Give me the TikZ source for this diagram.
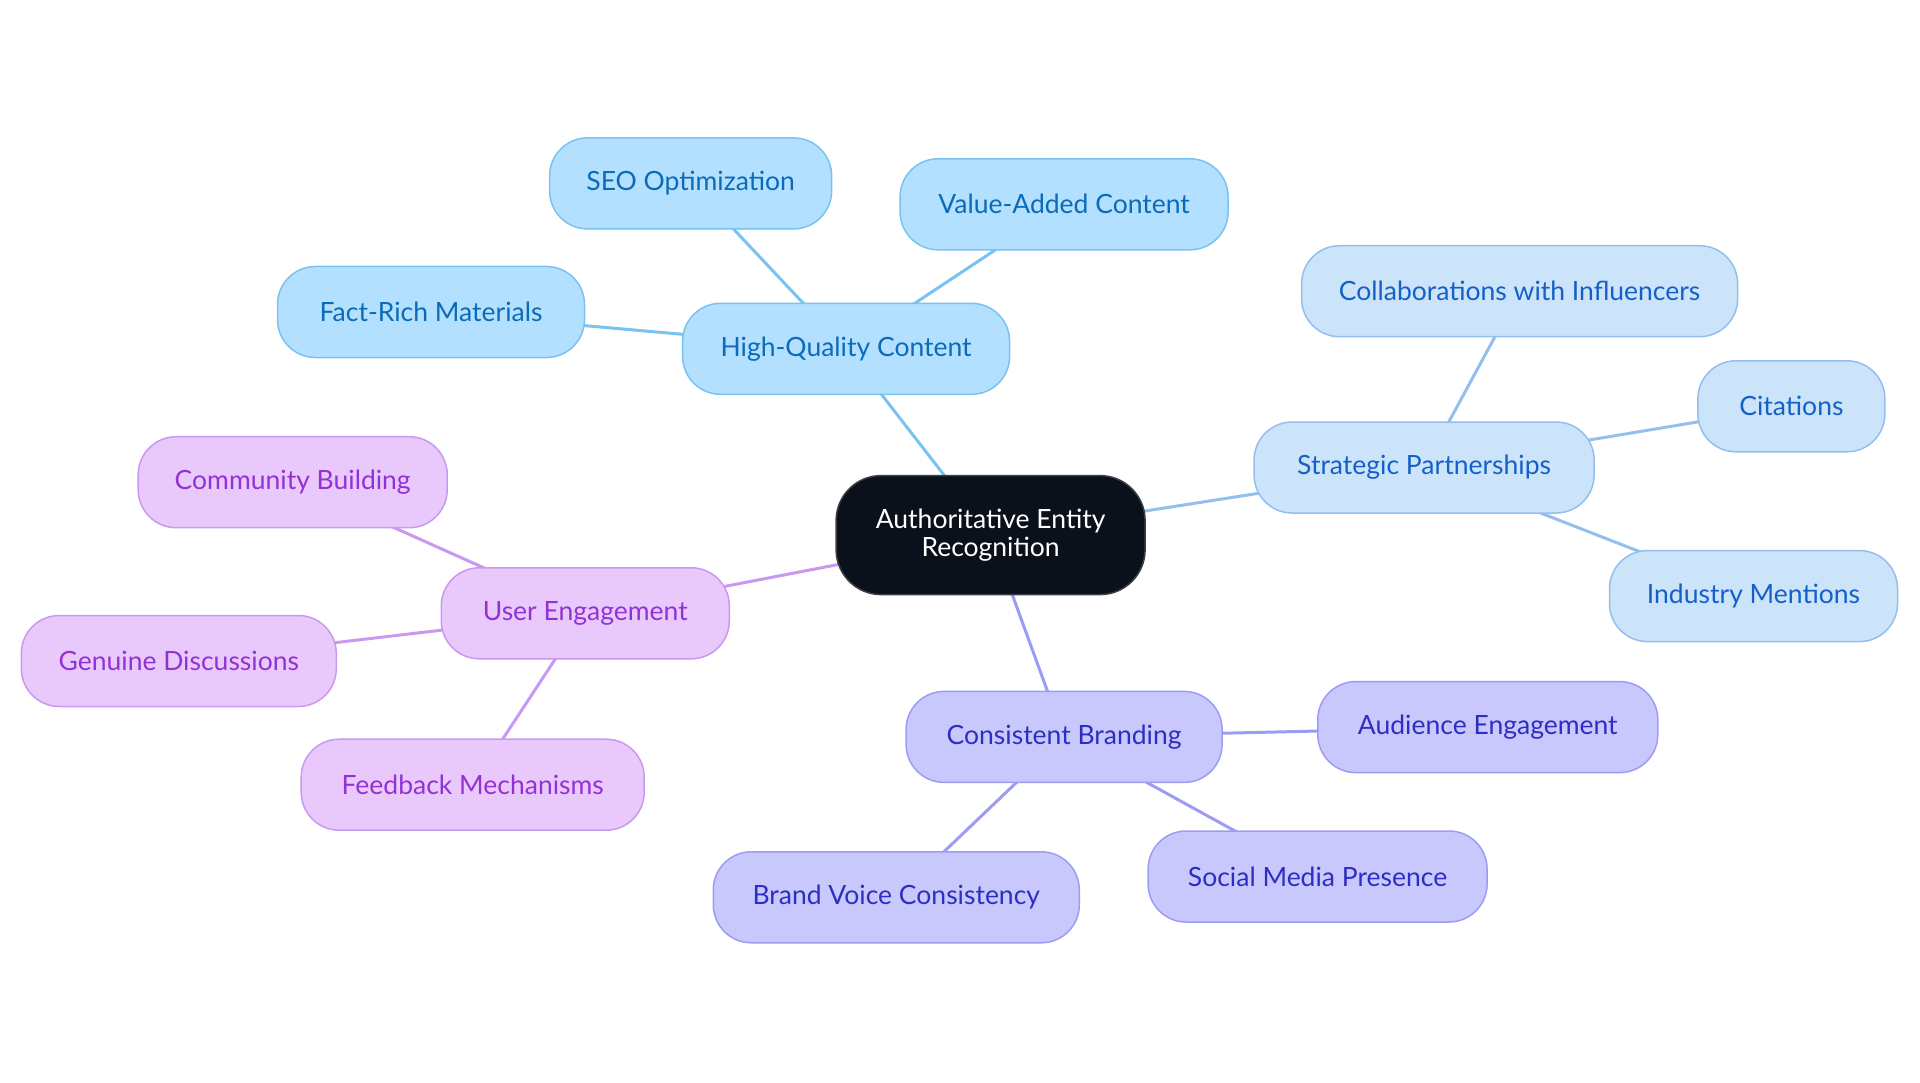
\documentclass[tikz,border=0pt]{standalone}
\usepackage{fontspec}
\setmainfont{Lato}
\usetikzlibrary{backgrounds}

\definecolor{hqfill}{HTML}{B3E0FF}
\definecolor{hqline}{HTML}{7AC2F0}
\definecolor{hqtext}{HTML}{0B6BB8}
\definecolor{spfill}{HTML}{CCE4FA}
\definecolor{spline}{HTML}{93BEEE}
\definecolor{sptext}{HTML}{1560C8}
\definecolor{cbfill}{HTML}{C8C8FC}
\definecolor{cbline}{HTML}{9C9CF4}
\definecolor{cbtext}{HTML}{2E2EC4}
\definecolor{uefill}{HTML}{E9C9FC}
\definecolor{ueline}{HTML}{C998F0}
\definecolor{uetext}{HTML}{9232D6}
\definecolor{rootfill}{HTML}{0B111B}
\definecolor{rootline}{HTML}{3A3F47}

\begin{document}
\begin{tikzpicture}[x=1pt, y=-1pt,
  topic/.style={rounded corners=38pt, line width=1.5pt, minimum height=91pt,
    inner xsep=0pt, font=\fontsize{26.5}{30}\selectfont},
  hq/.style={topic, fill=hqfill, draw=hqline, text=hqtext},
  sp/.style={topic, fill=spfill, draw=spline, text=sptext},
  cb/.style={topic, fill=cbfill, draw=cbline, text=cbtext},
  ue/.style={topic, fill=uefill, draw=ueline, text=uetext},
  link/.style={line width=3pt}]
  \useasboundingbox (0, 0) rectangle (1920, 1083);

  \node (root) at (990.6, 535.1) [rounded corners=45pt, line width=1.5pt, fill=rootfill, draw=rootline,
    text=white, minimum width=309pt, minimum height=119pt, align=center,
    font=\fontsize{26.5}{28}\selectfont]{Authoritative Entity\\Recognition};

  \node (hqc) at (846.1, 348.8) [hq, minimum width=327pt]{High-Quality Content};
  \node (seo) at (690.6, 183.4) [hq, minimum width=282pt]{SEO Optimization};
  \node (vac) at (1064.1, 204.3) [hq, minimum width=328pt]{Value-Added Content};
  \node (frm) at (431.0, 312.0) [hq, minimum width=307pt]{Fact-Rich Materials};

  \node (spa) at (1424.1, 467.5) [sp, minimum width=340pt]{Strategic Partnerships};
  \node (cwi) at (1519.6, 291.2) [sp, minimum width=436pt]{Collaborations with Influencers};
  \node (cit) at (1791.4, 406.3) [sp, minimum width=187pt]{Citations};
  \node (ind) at (1753.5, 596.1) [sp, minimum width=288pt]{Industry Mentions};

  \node (cbr) at (1064.1, 736.9) [cb, minimum width=316pt]{Consistent Branding};
  \node (aud) at (1487.8, 727.1) [cb, minimum width=340pt]{Audience Engagement};
  \node (smp) at (1317.6, 876.5) [cb, minimum width=339pt]{Social Media Presence};
  \node (bvc) at (896.3, 897.3) [cb, minimum width=366pt]{Brand Voice Consistency};

  \node (uen) at (585.3, 613.3) [ue, minimum width=288pt]{User Engagement};
  \node (com) at (292.7, 482.2) [ue, minimum width=309pt]{Community Building};
  \node (gen) at (178.8, 661.0) [ue, minimum width=315pt]{Genuine Discussions};
  \node (fbm) at (472.7, 784.7) [ue, minimum width=343pt]{Feedback Mechanisms};

  % connectors behind the boxes
  \begin{scope}[on background layer]
    \draw[link, hqline] (root.center) -- (hqc.center);
    \draw[link, hqline] (hqc.center) -- (seo.center);
    \draw[link, hqline] (hqc.center) -- (vac.center);
    \draw[link, hqline] (hqc.center) -- (frm.center);
    \draw[link, spline] (root.center) -- (spa.center);
    \draw[link, spline] (spa.center) -- (cwi.center);
    \draw[link, spline] (spa.center) -- (cit.center);
    \draw[link, spline] (spa.center) -- (ind.center);
    \draw[link, cbline] (root.center) -- (cbr.center);
    \draw[link, cbline] (cbr.center) -- (aud.center);
    \draw[link, cbline] (cbr.center) -- (smp.center);
    \draw[link, cbline] (cbr.center) -- (bvc.center);
    \draw[link, ueline] (root.center) -- (uen.center);
    \draw[link, ueline] (uen.center) -- (com.center);
    \draw[link, ueline] (uen.center) -- (gen.center);
    \draw[link, ueline] (uen.center) -- (fbm.center);
  \end{scope}
\end{tikzpicture}
\end{document}
